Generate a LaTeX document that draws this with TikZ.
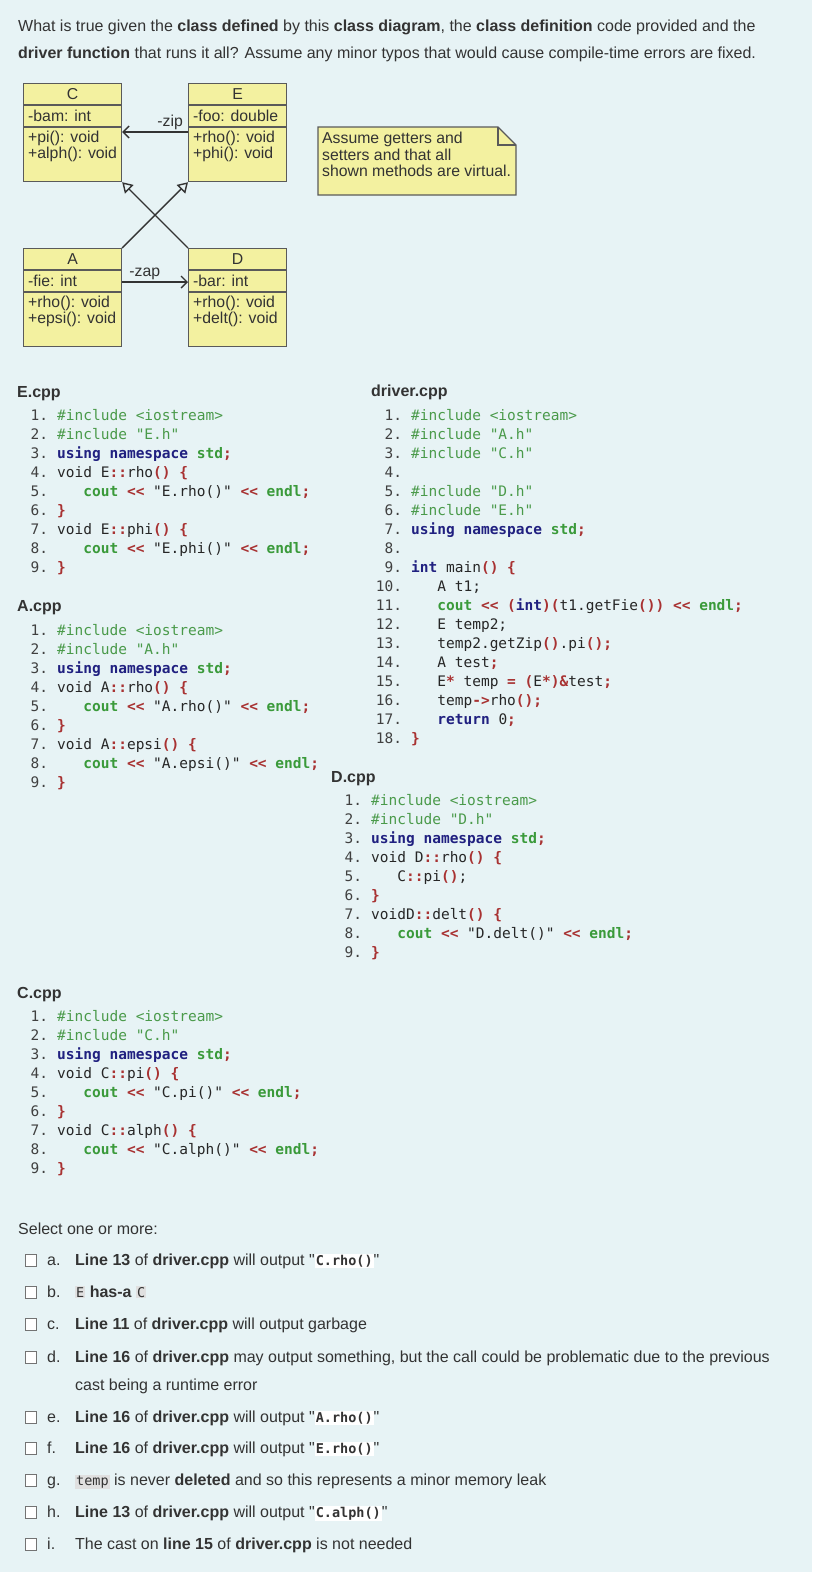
\documentclass[tikz,border=0pt]{standalone}
\usepackage{fontspec}
\setmainfont{Liberation Sans}[Ligatures=TeXOff]
\newfontfamily\codefont{DejaVu Sans Mono}
\usetikzlibrary{arrows.meta}
\definecolor{bgc}{HTML}{E7F3F5}
\definecolor{umlfill}{HTML}{F3F1A0}
\definecolor{umlline}{HTML}{5A5A5A}
\definecolor{ink}{HTML}{333333}
\definecolor{kwc}{HTML}{202080}
\definecolor{stdc}{HTML}{3A9A3A}
\definecolor{ppc}{HTML}{4A9A4A}
\definecolor{syc}{HTML}{A83232}
% code colouring
\newcommand{\pp}[1]{\textcolor{ppc}{#1}}
\newcommand{\kw}[1]{\textcolor{kwc}{\bfseries #1}}
\newcommand{\sd}[1]{\textcolor{stdc}{\bfseries #1}}
\newcommand{\sy}[1]{\textcolor{syc}{\bfseries #1}}
\newcommand{\wcode}[1]{{\setlength{\fboxsep}{1pt}\colorbox{white}{\codefont\bfseries\fontsize{13.5}{14}\selectfont #1}}}
\newcommand{\gcode}[1]{{\setlength{\fboxsep}{1pt}\colorbox{black!12}{\codefont\fontsize{13.5}{14}\selectfont #1}}}
% numbered listing: x of code, baseline of line 1, lines
\newcommand{\codelist}[3]{%
  \foreach \lno/\ind/\src in {#3}{
    \node[lnum] (n\lno) at ({#1-8.73},{#2+19*(\lno-1)}) {\lno.};
    \node[code] (s\lno) at ({#1+8.73*\ind},{#2+19*(\lno-1)}) {\src};
  }}
\begin{document}
\begin{tikzpicture}[x=1pt,y=-1pt,
  cls/.style={draw=umlline, fill=umlfill, line width=1.2pt, minimum width=98pt, minimum height=98pt, inner sep=0pt, anchor=north west},
  umlrule/.style={draw=umlline, line width=1.2pt},
  lbl/.style={anchor=base west, inner sep=0pt, text=ink, font=\fontsize{15.8}{16}\selectfont},
  body/.style={anchor=base west, inner sep=0pt, text=ink, font=\fontsize{16}{18}\selectfont},
  ttl/.style={anchor=base west, inner sep=0pt, text=ink, font=\fontsize{16}{18}\selectfont\bfseries},
  lnum/.style={anchor=base east, inner sep=0pt, text=black!75, font=\codefont\fontsize{14.5}{19}\selectfont},
  code/.style={anchor=base west, inner sep=0pt, text=black!85, font=\codefont\fontsize{14.5}{19}\selectfont},
  assoc/.style={draw=black!80, line width=1.4pt, -{Straight Barb[length=6pt,width=12pt]}},
  gen/.style={draw=black!80, line width=1.4pt, -{Triangle[open,length=10pt,width=12pt,fill=bgc]}},
  chk/.style={draw=black!55, fill=white, line width=0.8pt, minimum width=11pt, minimum height=12pt, inner sep=0pt}]

\useasboundingbox (0,0) rectangle (812,1572);
\fill[bgc] (0,0) rectangle (812,1572);

% question
\node[body] (q1) at (18,31) {What is true given the \textbf{class defined} by this \textbf{class diagram}, the \textbf{class definition} code provided and the};
\node[body] (q2) at (18,58) {\textbf{driver function} that runs it all? Assume any minor typos that would cause compile-time errors are fixed.};

% class diagram
\foreach \nm/\px/\py/\at/\ma/\mb in {C/23/83/-bam: int/+pi(): void/+alph(): void,
    E/188/83/-foo: double/+rho(): void/+phi(): void,
    A/23/248/-fie: int/+rho(): void/+epsi(): void,
    D/188/248/-bar: int/+rho(): void/+delt(): void}{
  \node[cls] (\nm) at (\px,\py) {};
  \draw[umlrule] ([yshift=-22pt]\nm.north west) -- ([yshift=-22pt]\nm.north east);
  \draw[umlrule] ([yshift=-44pt]\nm.north west) -- ([yshift=-44pt]\nm.north east);
  \node[lbl, anchor=base] (\nm-t) at ([yshift=-16pt]\nm.north) {\nm};
  \node[lbl] (\nm-a) at ([xshift=5pt,yshift=-38pt]\nm.north west) {\at};
  \node[lbl] (\nm-m1) at ([xshift=5pt,yshift=-59.5pt]\nm.north west) {\ma};
  \node[lbl] (\nm-m2) at ([xshift=5pt,yshift=-75.5pt]\nm.north west) {\mb};
}
\draw[assoc] ([yshift=-49pt]E.north west) -- ([yshift=-49pt]C.north east);
\node[lbl, anchor=base east] (zip) at ([xshift=-5pt,yshift=-43pt]E.north west) {-zip};
\draw[assoc] ([yshift=-34pt]A.north east) -- ([yshift=-34pt]D.north west);
\node[lbl] (zap) at ([xshift=7pt,yshift=-28pt]A.north east) {-zap};
\draw[gen] (A.north east) -- (E.south west);
\draw[gen] (D.north west) -- (C.south east);

% note
\draw[umlrule, fill=umlfill] (318,127) -- (498,127) -- (516,145) -- (516,195) -- (318,195) -- cycle;
\draw[umlrule] (498,127) -- (498,145) -- (516,145);
\foreach \i/\y/\t in {1/143/Assume getters and, 2/160/setters and that all, 3/176/shown methods are virtual.}
  \node[lbl] (note\i) at (322,\y) {\t};

% E.cpp
\node[ttl] (fE) at (17,397) {E.cpp};
\codelist{57}{420}{1/0/{\pp{\#include <iostream>}},
  2/0/{\pp{\#include "E.h"}},
  3/0/{\kw{using namespace} \sd{std}\sy{;}},
  4/0/{void E\sy{::}rho\sy{()} \sy{\{}},
  5/3/{\sd{cout} \sy{<<} "E.rho()" \sy{<<} \sd{endl}\sy{;}},
  6/0/{\sy{\}}},
  7/0/{void E\sy{::}phi\sy{()} \sy{\{}},
  8/3/{\sd{cout} \sy{<<} "E.phi()" \sy{<<} \sd{endl}\sy{;}},
  9/0/{\sy{\}}}}

% A.cpp
\node[ttl] (fA) at (17,611) {A.cpp};
\codelist{57}{635}{1/0/{\pp{\#include <iostream>}},
  2/0/{\pp{\#include "A.h"}},
  3/0/{\kw{using namespace} \sd{std}\sy{;}},
  4/0/{void A\sy{::}rho\sy{()} \sy{\{}},
  5/3/{\sd{cout} \sy{<<} "A.rho()" \sy{<<} \sd{endl}\sy{;}},
  6/0/{\sy{\}}},
  7/0/{void A\sy{::}epsi\sy{()} \sy{\{}},
  8/3/{\sd{cout} \sy{<<} "A.epsi()" \sy{<<} \sd{endl}\sy{;}},
  9/0/{\sy{\}}}}

% driver.cpp
\node[ttl] (fdrv) at (371,396) {driver.cpp};
\codelist{411}{420}{1/0/{\pp{\#include <iostream>}},
  2/0/{\pp{\#include "A.h"}},
  3/0/{\pp{\#include "C.h"}},
  4/0/{},
  5/0/{\pp{\#include "D.h"}},
  6/0/{\pp{\#include "E.h"}},
  7/0/{\kw{using namespace} \sd{std}\sy{;}},
  8/0/{},
  9/0/{\kw{int} main\sy{()} \sy{\{}},
  10/3/{A t1;},
  11/3/{\sd{cout} \sy{<<} \sy{(}\kw{int}\sy{)(}t1.getFie\sy{())} \sy{<<} \sd{endl}\sy{;}},
  12/3/{E temp2;},
  13/3/{temp2.getZip\sy{()}.pi\sy{();}},
  14/3/{A test\sy{;}},
  15/3/{E\sy{*} temp \sy{=} \sy{(}E\sy{*)\&}test\sy{;}},
  16/3/{temp\sy{->}rho\sy{();}},
  17/3/{\kw{return} 0\sy{;}},
  18/0/{\sy{\}}}}

% D.cpp
\node[ttl] (fD) at (331,782) {D.cpp};
\codelist{371}{805}{1/0/{\pp{\#include <iostream>}},
  2/0/{\pp{\#include "D.h"}},
  3/0/{\kw{using namespace} \sd{std}\sy{;}},
  4/0/{void D\sy{::}rho\sy{()} \sy{\{}},
  5/3/{C\sy{::}pi\sy{()};},
  6/0/{\sy{\}}},
  7/0/{voidD\sy{::}delt\sy{()} \sy{\{}},
  8/3/{\sd{cout} \sy{<<} "D.delt()" \sy{<<} \sd{endl}\sy{;}},
  9/0/{\sy{\}}}}

% C.cpp
\node[ttl] (fC) at (17,998) {C.cpp};
\codelist{57}{1021}{1/0/{\pp{\#include <iostream>}},
  2/0/{\pp{\#include "C.h"}},
  3/0/{\kw{using namespace} \sd{std}\sy{;}},
  4/0/{void C\sy{::}pi\sy{()} \sy{\{}},
  5/3/{\sd{cout} \sy{<<} "C.pi()" \sy{<<} \sd{endl}\sy{;}},
  6/0/{\sy{\}}},
  7/0/{void C\sy{::}alph\sy{()} \sy{\{}},
  8/3/{\sd{cout} \sy{<<} "C.alph()" \sy{<<} \sd{endl}\sy{;}},
  9/0/{\sy{\}}}}

% answers
\node[body] (sel) at (18,1234) {Select one or more:};
\foreach \l/\y/\t in {a/1260/{\textbf{Line 13} of \textbf{driver.cpp} will output "\wcode{C.rho()}"},
    b/1292/{\gcode{E} \textbf{has-a} \gcode{C}},
    c/1324/{\textbf{Line 11} of \textbf{driver.cpp} will output garbage},
    d/1357/{\textbf{Line 16} of \textbf{driver.cpp} may output something, but the call could be problematic due to the previous},
    e/1417/{\textbf{Line 16} of \textbf{driver.cpp} will output "\wcode{A.rho()}"},
    f/1448/{\textbf{Line 16} of \textbf{driver.cpp} will output "\wcode{E.rho()}"},
    g/1480/{\gcode{temp} is never \textbf{deleted} and so this represents a minor memory leak},
    h/1512/{\textbf{Line 13} of \textbf{driver.cpp} will output "\wcode{C.alph()}"},
    i/1544/{The cast on \textbf{line 15} of \textbf{driver.cpp} is not needed}}{
  \node[chk] (box-\l) at (30.5,\y) {};
  \node[body] (let-\l) at (47,\y+5) {\l.};
  \node[body] (opt-\l) at (75,\y+5) {\t};
}
\node[body] (opt-d2) at (75,1390) {cast being a runtime error};
\end{tikzpicture}
\end{document}
